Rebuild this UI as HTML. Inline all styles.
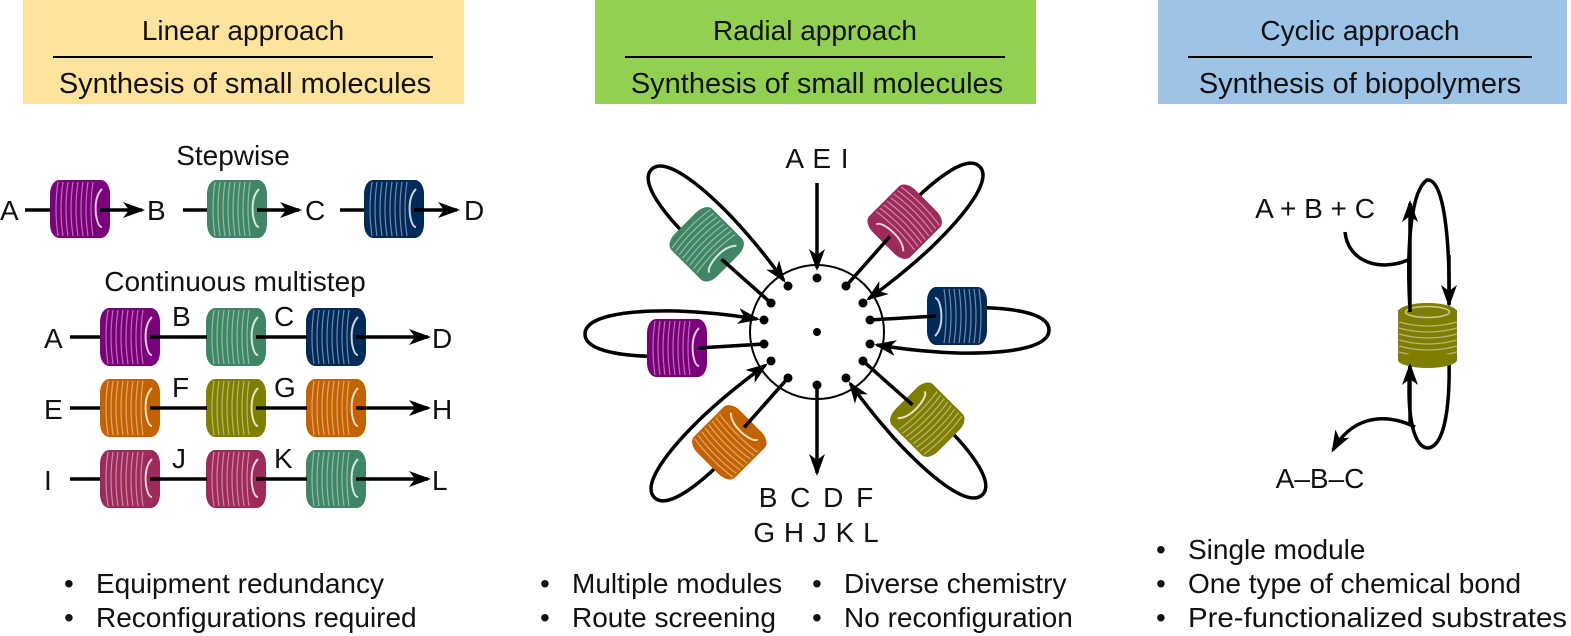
<!DOCTYPE html>
<html><head><meta charset="utf-8"><style>
html,body{margin:0;padding:0;background:#fff;}
svg{display:block;}
text{font-family:"Liberation Sans",Arial,sans-serif;fill:#111;}
</style></head><body>
<svg width="1571" height="636" viewBox="0 0 1571 636" xmlns="http://www.w3.org/2000/svg">
<defs>
<marker id="ah" viewBox="0 0 22 16" refX="19" refY="8" markerWidth="22" markerHeight="16" orient="auto" markerUnits="userSpaceOnUse">
<path d="M0,0 L22,8 L0,16 L6,8 Z" fill="#000"/>
</marker>
<g id="coil">
<rect x="-30" y="-29" width="60" height="58" rx="9" ry="14" fill="currentColor"/>
<g stroke="#fff" stroke-opacity="0.45" stroke-width="1.2" fill="none">
<path d="M-22,-27 q-4,27 0,54 M-17,-27 q-4,27 0,54 M-12,-27 q-4,27 0,54 M-7,-27 q-4,27 0,54 M-2,-27 q-4,27 0,54 M3,-27 q-4,27 0,54 M8,-27 q-4,27 0,54 M13,-27 q-4,27 0,54"/>
</g>
<ellipse cx="21" cy="0" rx="9" ry="29" fill="currentColor"/>
<path d="M22,-20 q-8,8 -6,26 q2,12 6,12" stroke="#fff" stroke-opacity="0.8" stroke-width="2" fill="none"/>
</g>
<g id="arm">
<path d="M-140,24 C-190,26 -232,20 -232,2 C-232,-16 -190,-22 -140,-21 C-110,-20 -85,-17 -60,-13" stroke="#000" stroke-width="3.5" fill="none" marker-end="url(#ah)"/>
<use href="#coil" x="-140" y="16"/>
<line x1="-119" y1="16" x2="-53" y2="12" stroke="#000" stroke-width="3.5"/>
<circle cx="-53" cy="12" r="4.5" fill="#000"/>
<circle cx="-53" cy="-12" r="4.5" fill="#000"/>
</g>
</defs>

<!-- headers -->
<rect x="23" y="0" width="441" height="104" fill="#fde39b"/>
<rect x="595" y="0" width="441" height="104" fill="#92d050"/>
<rect x="1158" y="0" width="409" height="104" fill="#9dc3e6"/>
<g font-size="29" text-anchor="middle">
<text x="243" y="40" font-size="28">Linear approach</text>
<text x="245" y="93">Synthesis of small molecules</text>
<text x="815" y="40" font-size="28">Radial approach</text>
<text x="817" y="93">Synthesis of small molecules</text>
<text x="1360" y="40" font-size="28">Cyclic approach</text>
<text x="1360" y="93">Synthesis of biopolymers</text>
</g>
<g stroke="#000" stroke-width="2">
<line x1="53" y1="57" x2="433" y2="57"/>
<line x1="625" y1="57" x2="1005" y2="57"/>
<line x1="1188" y1="57" x2="1532" y2="57"/>
</g>

<!-- Linear -->
<g font-size="28">
<text x="233" y="165" text-anchor="middle">Stepwise</text>
<text x="0" y="220">A</text><text x="147" y="220">B</text><text x="305" y="220">C</text><text x="464" y="220">D</text>
<text x="235" y="291" text-anchor="middle">Continuous multistep</text>
<text x="44" y="348">A</text><text x="172" y="326">B</text><text x="274" y="326">C</text><text x="432" y="348">D</text>
<text x="44" y="419">E</text><text x="172" y="397">F</text><text x="274" y="397">G</text><text x="432" y="419">H</text>
<text x="44" y="490">I</text><text x="172" y="468">J</text><text x="274" y="468">K</text><text x="432" y="490">L</text>
</g>
<g stroke="#000" stroke-width="3.5" fill="none">
<line x1="25" y1="210" x2="55" y2="210"/>
<line x1="183" y1="210" x2="212" y2="210"/>
<line x1="340" y1="210" x2="370" y2="210"/>
<line x1="70" y1="337" x2="110" y2="337"/>
<line x1="70" y1="408" x2="110" y2="408"/>
<line x1="70" y1="479" x2="110" y2="479"/>
</g>
<g style="color:#7b007b"><use href="#coil" x="80" y="209"/></g>
<g style="color:#3f8566"><use href="#coil" x="237" y="209"/></g>
<g style="color:#002a5a"><use href="#coil" x="394" y="209"/></g>
<g style="color:#7b007b"><use href="#coil" x="130" y="337"/></g>
<g style="color:#3f8566"><use href="#coil" x="236" y="337"/></g>
<g style="color:#002a5a"><use href="#coil" x="336" y="337"/></g>
<g style="color:#c46200"><use href="#coil" x="130" y="408"/></g>
<g style="color:#7e7e00"><use href="#coil" x="236" y="408"/></g>
<g style="color:#c46200"><use href="#coil" x="336" y="408"/></g>
<g style="color:#9e2a5c"><use href="#coil" x="130" y="479"/></g>
<g style="color:#9e2a5c"><use href="#coil" x="236" y="479"/></g>
<g style="color:#3f8566"><use href="#coil" x="336" y="479"/></g>
<g stroke="#000" stroke-width="3.5" fill="none">
<line x1="150" y1="337" x2="207" y2="337"/><line x1="256" y1="337" x2="307" y2="337"/>
<line x1="150" y1="408" x2="207" y2="408"/><line x1="256" y1="408" x2="307" y2="408"/>
<line x1="150" y1="479" x2="207" y2="479"/><line x1="256" y1="479" x2="307" y2="479"/>
</g>
<g stroke="#000" stroke-width="3.5" fill="none" marker-end="url(#ah)">
<line x1="100" y1="210" x2="142" y2="210"/>
<line x1="257" y1="210" x2="299" y2="210"/>
<line x1="414" y1="210" x2="457" y2="210"/>
<line x1="356" y1="337" x2="428" y2="337"/>
<line x1="356" y1="408" x2="428" y2="408"/>
<line x1="356" y1="479" x2="428" y2="479"/>
</g>

<!-- Radial -->
<circle cx="817" cy="332" r="67" fill="#fff" stroke="#000" stroke-width="2"/>
<g fill="#000">
<circle cx="817" cy="332" r="4"/>
<circle cx="817" cy="278" r="4.5"/><circle cx="817" cy="385" r="4.5"/>
</g>
<g transform="translate(817,332)">
<g style="color:#7b007b"><use href="#arm"/></g>
<g style="color:#3f8566" transform="rotate(45)"><use href="#arm"/></g>
<g style="color:#9e2a5c" transform="rotate(135)"><use href="#arm"/></g>
<g style="color:#002a5a" transform="rotate(180)"><use href="#arm"/></g>
<g style="color:#7e7e00" transform="rotate(225)"><use href="#arm"/></g>
<g style="color:#c46200" transform="rotate(315)"><use href="#arm"/></g>
</g>
<g stroke="#000" stroke-width="3.5" fill="none" marker-end="url(#ah)">
<line x1="817" y1="183" x2="817" y2="268"/>
<line x1="817" y1="385" x2="817" y2="473"/>
</g>
<g font-size="28" text-anchor="middle">
<text x="817" y="168" word-spacing="2">A E I</text>
<text x="816" y="507" word-spacing="5">B C D F</text>
<text x="816" y="542" word-spacing="1">G H J K L</text>
</g>

<!-- Cyclic -->
<g stroke="#000" stroke-width="3.5" fill="none">
<path d="M1410,310 C1406,240 1412,190 1427,180 C1444,178 1450,240 1449,305"/>
<path d="M1410,365 C1406,420 1415,448 1428,448 C1446,446 1450,400 1449,360"/>
<path d="M1345,232 C1348,262 1380,272 1408,260"/>
</g>
<g style="color:#7e7e00">
<rect x="1398" y="310" width="59" height="50" fill="currentColor"/>
<g stroke="#fff" stroke-opacity="0.45" stroke-width="1.2" fill="none">
<path d="M1399,322 q29,8 58,0 M1399,328 q29,8 58,0 M1399,334 q29,8 58,0 M1399,340 q29,8 58,0 M1399,346 q29,8 58,0 M1399,352 q29,8 58,0"/>
</g>
<ellipse cx="1427.5" cy="360" rx="29.5" ry="8" fill="currentColor"/>
<ellipse cx="1427.5" cy="312" rx="29.5" ry="9" fill="currentColor"/>
<ellipse cx="1427.5" cy="312" rx="22" ry="5.5" fill="none" stroke="#fff" stroke-opacity="0.6" stroke-width="1.5"/>
</g>
<g stroke="#000" stroke-width="3.5" fill="none" marker-end="url(#ah)">
<line x1="1410" y1="312" x2="1410" y2="203"/>
<line x1="1449" y1="255" x2="1449" y2="304"/>
<line x1="1410" y1="425" x2="1410" y2="366"/>
<path d="M1415,427 C1380,410 1350,420 1333,450"/>
</g>
<g font-size="28" text-anchor="middle">
<text x="1315" y="218">A + B + C</text>
<text x="1320" y="488">A–B–C</text>
</g>

<!-- bullets -->
<g font-size="28">
<text x="64" y="593">•</text><text x="96" y="593">Equipment redundancy</text>
<text x="64" y="627">•</text><text x="96" y="627">Reconfigurations required</text>
<text x="540" y="593">•</text><text x="572" y="593">Multiple modules</text>
<text x="540" y="627">•</text><text x="572" y="627">Route screening</text>
<text x="812" y="593">•</text><text x="844" y="593">Diverse chemistry</text>
<text x="812" y="627">•</text><text x="844" y="627">No reconfiguration</text>
<text x="1156" y="559">•</text><text x="1188" y="559">Single module</text>
<text x="1156" y="593">•</text><text x="1188" y="593">One type of chemical bond</text>
<text x="1156" y="627">•</text><text x="1188" y="627" textLength="379" lengthAdjust="spacingAndGlyphs">Pre-functionalized substrates</text>
</g>
</svg>
</body></html>
